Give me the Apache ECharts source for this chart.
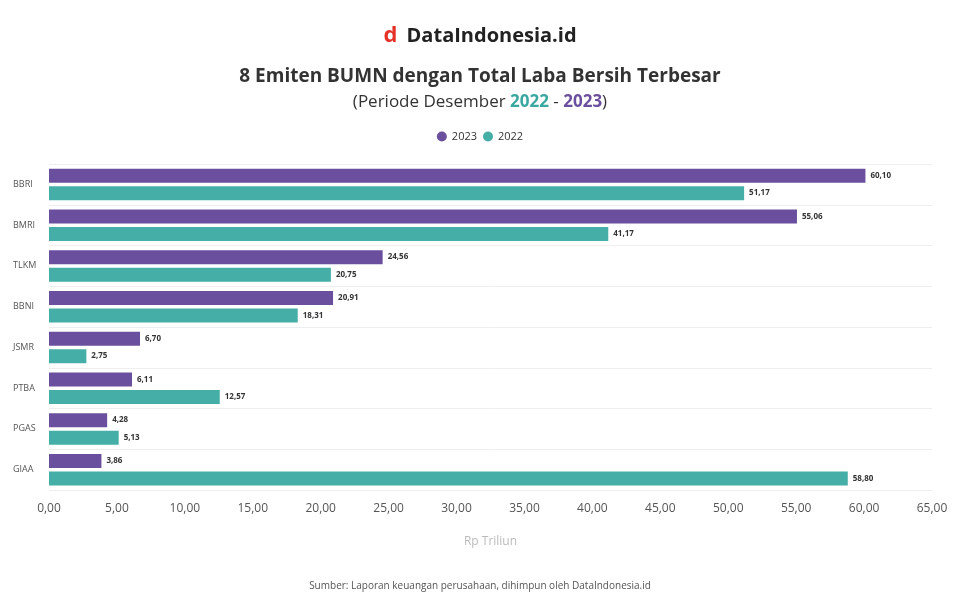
<!DOCTYPE html>
<html><head><meta charset="utf-8">
<script src="https://cdn.jsdelivr.net/npm/echarts@6/dist/echarts.min.js"></script>
<style>html,body{margin:0;padding:0;background:#fff}#c{width:960px;height:600px}</style>
</head><body><div id="c"></div>
<script>
const categories = ['BBRI','BMRI','TLKM','BBNI','JSMR','PTBA','PGAS','GIAA'];
const values2023 = [60.10, 55.06, 24.56, 20.91, 6.70, 6.11, 4.28, 3.86];
const values2022 = [51.17, 41.17, 20.75, 18.31, 2.75, 12.57, 5.13, 58.80];
const xTicks = {min:0, max:65, interval:5};
const chart = echarts.init(document.getElementById('c'));
const fmt = v => v.toFixed(2).replace('.', ',');
const lbl = {show:true, position:'right', fontSize:8, fontWeight:'bold', color:'#333', formatter:p=>fmt(p.value)};
chart.setOption({
  textStyle:{fontFamily:'Open Sans'},
  title:[
    {text:'{logo|d} DataIndonesia.id', left:'center', top:20, textStyle:{fontSize:20, fontWeight:'bold', color:'#222', rich:{logo:{fontSize:22, fontWeight:'bold', color:'#e5332a', padding:[0,4,0,0]}}}},
    {text:'8 Emiten BUMN dengan Total Laba Bersih Terbesar', left:'center', top:62, textStyle:{fontSize:19, fontWeight:'bold', color:'#333'}},
    {text:'(Periode Desember {a|2022} - {b|2023})', left:'center', top:89, textStyle:{fontSize:17, fontWeight:'normal', color:'#333', rich:{a:{fontSize:17,fontWeight:'bold',color:'#3aa8a0'},b:{fontSize:17,fontWeight:'bold',color:'#6a4f9e'}}}},
    {text:'Sumber: Laporan keuangan perusahaan, dihimpun oleh DataIndonesia.id', left:'center', top:576, textStyle:{fontSize:10, fontWeight:'normal', color:'#555'}}
  ],
  legend:{top:126, left:'center', itemWidth:10, itemHeight:10, itemGap:6, icon:'circle', textStyle:{fontSize:11,color:'#333'}, data:['2023','2022']},
  grid:{left:49, right:28, top:164, bottom:110},
  xAxis:{type:'value', min:xTicks.min, max:xTicks.max, interval:xTicks.interval,
    name:'Rp Triliun', nameLocation:'middle', nameGap:46, nameTextStyle:{color:'#bbb', fontSize:12},
    axisLabel:{formatter:v=>fmt(v), color:'#555', fontSize:12, margin:13}, splitLine:{show:false}, axisLine:{show:false}, axisTick:{show:false}},
  yAxis:{type:'category', inverse:true, data:categories, axisLabel:{color:'#555', fontSize:9, margin:36, align:'left'}, axisLine:{show:false}, axisTick:{show:false},
    splitLine:{show:true, lineStyle:{color:'#eee'}}},
  series:[
    {name:'2023', type:'bar', data:values2023, itemStyle:{color:'#6a4f9e'}, barWidth:14, barGap:'25%', label:lbl},
    {name:'2022', type:'bar', data:values2022, itemStyle:{color:'#45aea6'}, barWidth:14, label:lbl}
  ]
});
</script></body></html>
